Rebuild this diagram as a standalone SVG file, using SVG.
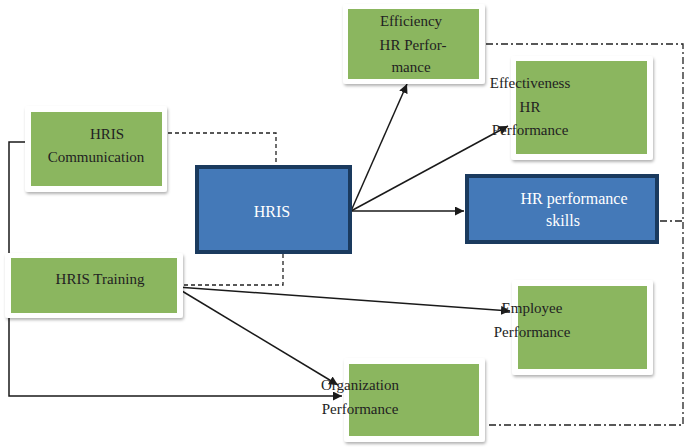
<svg xmlns="http://www.w3.org/2000/svg" width="685" height="448" viewBox="0 0 685 448">
<defs>
<marker id="ah" viewBox="0 0 10 10" refX="10" refY="5" markerWidth="9" markerHeight="9" orient="auto" markerUnits="userSpaceOnUse"><path d="M0,0 L10,5 L0,10 z" fill="#1a1a1a"/></marker>
<filter id="sh" x="-10%" y="-10%" width="130%" height="130%"><feDropShadow dx="1" dy="2" stdDeviation="1.5" flood-color="#000" flood-opacity="0.3"/></filter>
</defs>
<style>
.fr{fill:#fff;filter:url(#sh)}
.g{fill:#8bb65f}
.b{fill:#4479b8;stroke:#1a3a5e;stroke-width:4}
.t{font-family:"Liberation Serif",serif;font-size:15px;fill:#222;text-anchor:middle}
.tw{font-family:"Liberation Serif",serif;font-size:16px;fill:#fff;text-anchor:middle}
.s{fill:none;stroke:#1a1a1a;stroke-width:1.5}
.d{fill:none;stroke:#222;stroke-width:1.3;stroke-dasharray:4,3}
.dd{fill:none;stroke:#222;stroke-width:1.3;stroke-dasharray:7,3,2,3}
</style>
<g id="connectors">
<path class="d" d="M168,133 H276 V165"/>
<path class="d" d="M283,254 V285 H177"/>
<path class="s" d="M25,142 H9 V396 H342" marker-end="url(#ah)"/>
<path class="s" d="M351,211 L407,84" marker-end="url(#ah)"/>
<path class="s" d="M351,211 L508,126" marker-end="url(#ah)"/>
<path class="s" d="M351,211 H464" marker-end="url(#ah)"/>
<path class="s" d="M177,287 L510,311" marker-end="url(#ah)"/>
<path class="s" d="M177,288 L338,385" marker-end="url(#ah)"/>
<path class="dd" d="M486,44 H683 V425 H486"/>
<path class="dd" d="M660,221 H683"/>
</g>
<g id="efficiency"><rect class="fr" x="343" y="4" width="142" height="80" rx="3"/><rect class="g" x="348" y="9" width="131" height="70"/>
<text class="t" x="411" y="26">Efficiency</text><text class="t" x="413" y="50">HR Perfor-</text><text class="t" x="411" y="72">mance</text></g>
<g id="effectiveness"><rect class="fr" x="511" y="56" width="142" height="104" rx="3"/><rect class="g" x="516" y="61" width="131" height="93"/>
<text class="t" x="530" y="88" text-anchor="start">Effectiveness</text><text class="t" x="530" y="112" text-anchor="start">HR</text><text class="t" x="530" y="135" text-anchor="start">Performance</text></g>
<g id="hrskills"><rect class="b" x="467" y="176" width="190" height="66"/>
<text class="tw" x="574" y="204">HR performance</text><text class="tw" x="563" y="226">skills</text></g>
<g id="hris"><rect class="b" x="197" y="167" width="153" height="85"/><text class="tw" x="272" y="217" font-size="17">HRIS</text></g>
<g id="comm"><rect class="fr" x="25" y="106" width="142" height="86" rx="3"/><rect class="g" x="31" y="112" width="131" height="74"/>
<text class="t" x="107" y="139">HRIS</text><text class="t" x="96" y="162">Communication</text></g>
<g id="training"><rect class="fr" x="5" y="253" width="178" height="65" rx="3"/><rect class="g" x="11" y="258" width="166" height="55"/>
<text class="t" x="100" y="284">HRIS Training</text></g>
<g id="employee"><rect class="fr" x="512" y="280" width="141" height="95" rx="3"/><rect class="g" x="518" y="286" width="129" height="83"/>
<text class="t" x="532" y="313" text-anchor="start">Employee</text><text class="t" x="532" y="337" text-anchor="start">Performance</text></g>
<g id="organization"><rect class="fr" x="344" y="358" width="141" height="84" rx="3"/><rect class="g" x="349" y="364" width="130" height="72"/>
<text class="t" x="360" y="390" text-anchor="start">Organization</text><text class="t" x="360" y="414" text-anchor="start">Performance</text></g>
</svg>
